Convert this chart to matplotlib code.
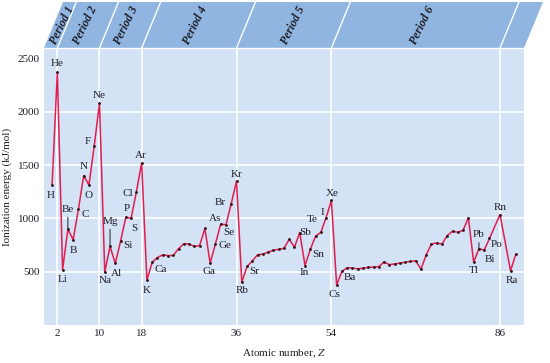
import matplotlib.pyplot as plt
from matplotlib.patches import Polygon
from matplotlib.transforms import blended_transform_factory

plt.rcParams['font.family'] = ['Liberation Serif', 'DejaVu Serif']
plt.rcParams['mathtext.fontset'] = 'stix'

# first ionization energy (kJ/mol); At (85) and Fr (87) are not plotted
atomic_number = list(range(1, 85)) + [86, 88, 89]
ionization_energy = [
    1312, 2372,
    520, 899, 801, 1086, 1402, 1314, 1681, 2081,
    496, 738, 578, 787, 1012, 1000, 1251, 1521,
    419, 590, 633, 659, 651, 653, 717, 763, 760, 737, 746, 906,
    579, 762, 947, 941, 1140, 1351,
    403, 550, 600, 660, 665, 684, 702, 710, 720, 804, 731, 868,
    558, 709, 834, 869, 1008, 1170,
    376, 503, 538, 534, 527, 533, 540, 545, 547, 593, 566, 573, 581, 589,
    597, 603, 524, 659, 761, 770, 760, 840, 880, 870, 890, 1007,
    589, 716, 703, 812, 1037,
    509, 665,
]

period_ends = [2, 10, 18, 36, 54, 86]
period_names = ['Period 1', 'Period 2', 'Period 3', 'Period 4', 'Period 5', 'Period 6']
y_ticks = [500, 1000, 1500, 2000, 2500]

labels = ['H', 'He', 'Li', 'Be', 'B', 'C', 'N', 'O', 'F', 'Ne', 'Na', 'Mg', 'Al', 'Si',
          'P', 'S', 'Cl', 'Ar', 'K', 'Ca', 'Ga', 'Ge', 'As', 'Se', 'Br', 'Kr', 'Rb',
          'Sr', 'In', 'Sn', 'Sb', 'Te', 'I', 'Xe', 'Cs', 'Ba', 'Tl', 'Pb', 'Bi', 'Po',
          'Rn', 'Ra']
label_z = [1, 2, 3, 4, 5, 6, 7, 8, 9, 10, 11, 12, 13, 14, 15, 16, 17, 18, 19, 20,
           31, 32, 33, 34, 35, 36, 37, 38, 49, 50, 51, 52, 53, 54, 55, 56, 81, 82,
           83, 84, 86, 88]

# label placement, pixel offsets from the point
offsets = {
    'H': (-1, -10), 'He': (0, 9), 'Li': (0, -10), 'Be': (0, 20), 'B': (0, -11),
    'C': (7, -5), 'N': (0, 9), 'O': (0, -10), 'F': (-6, 4), 'Ne': (0, 8),
    'Na': (0, -8), 'Mg': (0, 25), 'Al': (1, -10), 'Si': (7, -4), 'P': (1, 9),
    'S': (3, -10), 'Cl': (-9, -2), 'Ar': (-1, 7), 'K': (0, -10), 'Ca': (8, -7),
    'Ga': (-1, -8), 'Ge': (10, -2), 'As': (-6, 6), 'Se': (3, -8), 'Br': (-11, 1),
    'Kr': (0, 7), 'Rb': (0, -8), 'Sr': (7, -5), 'In': (-1, -7), 'Sn': (8, -5),
    'Sb': (-10, 4), 'Te': (-9, 13), 'I': (-4, 5), 'Xe': (1, 7), 'Cs': (-2, -10),
    'Ba': (8, -6), 'Tl': (0, -8), 'Pb': (0, 14), 'Bi': (6, -9), 'Po': (7, -6),
    'Rn': (0, 7), 'Ra': (1, -10),
}
leaders = {'Be', 'Mg', 'Pb'}

BG = '#d3e2f4'
BAND = '#90b5e0'
LINE = '#e01e50'
TEXT = '#1f1f2a'

fig = plt.figure(figsize=(5.5, 3.63), dpi=100)
ax = fig.add_axes([0.08, 0.1047, 0.8727, 0.763])
ax.set_facecolor(BG)
xmin, xmax = -0.53, 90.55
ax.set_xlim(xmin, xmax)
ax.set_ylim(0, 2600)

for v in y_ticks[:-1]:
    ax.axhline(v, color='white', lw=1.2, zorder=1)
for z in period_ends:
    ax.axvline(z, color='white', lw=1.2, zorder=1)

ax.plot(atomic_number, ionization_energy, color=LINE, lw=1.1, zorder=3)
ax.plot(atomic_number, ionization_energy, ls='none', marker='o', ms=1.0,
        color='#331018', zorder=4)

energy_of = dict(zip(atomic_number, ionization_energy))
for sym, z in zip(labels, label_z):
    dx, dy = offsets[sym]
    props = None
    if sym in leaders:
        props = dict(arrowstyle='-', lw=0.7, color=TEXT, shrinkA=0.5, shrinkB=0)
    ax.annotate(sym, xy=(z, energy_of[z]), xytext=(dx, dy), textcoords='offset pixels',
                ha='center', va='center', fontsize=8, color=TEXT, zorder=5,
                arrowprops=props)

ax.set_xticks(period_ends)
ax.set_yticks(y_ticks)
ax.tick_params(length=0, labelsize=8, colors=TEXT, pad=3)
for s in ax.spines.values():
    s.set_visible(False)
ax.set_xlabel('Atomic number, $Z$', fontsize=8, color=TEXT, labelpad=7)
ax.set_ylabel('Ionization energy (kJ/mol)', fontsize=8, color=TEXT, labelpad=4)

# slanted period header above the plot
top = 1.166
slant = 0.0395
ax.add_patch(Polygon([(0, 1), (1, 1), (1 + slant, top), (slant, top)],
                     closed=True, transform=ax.transAxes, facecolor=BAND,
                     edgecolor='none', clip_on=False, zorder=1))
ax.plot([0, 1], [1, 1], transform=ax.transAxes, color='white', lw=1.0, clip_on=False)
for z in period_ends:
    xf = (z - xmin) / (xmax - xmin)
    ax.plot([xf, xf + slant], [1, top], transform=ax.transAxes, color='white',
            lw=1.0, clip_on=False, zorder=2)

label_x = [3.0, 7.3, 15.0, 28.1, 46.7, 71.2]
trans = blended_transform_factory(ax.transData, ax.transAxes)
for name, zx in zip(period_names, label_x):
    ax.text(zx, 1.083, name, transform=trans, rotation=64, ha='center', va='center',
            fontsize=8.5, fontweight='bold', fontstyle='italic', color=TEXT,
            clip_on=False)

fig.savefig('out.png', dpi=100)
